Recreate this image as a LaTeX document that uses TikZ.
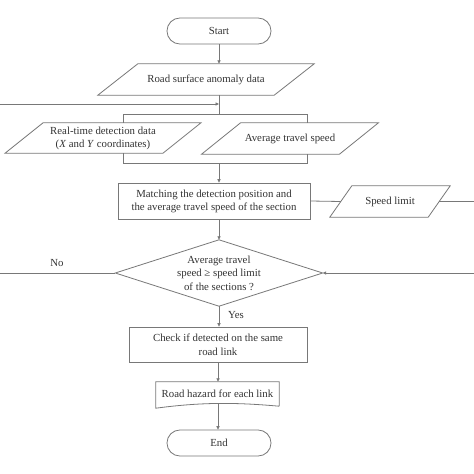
\documentclass[tikz,border=0pt]{standalone}
\usepackage{fontspec}
\setmainfont{Liberation Serif}
\usetikzlibrary{arrows.meta}
\definecolor{ln}{HTML}{787878}
\definecolor{tx}{HTML}{333333}
\newcommand\mypara[2]{\draw[shapeline] ([xshift=#2]#1.north west) -- ([xshift=#2]#1.north east) -- ([xshift=-#2]#1.south east) -- ([xshift=-#2]#1.south west) -- cycle;}
\begin{document}
\begin{tikzpicture}[x=1pt,y=-1pt,
 lbl/.style={inner sep=0pt, align=center, text=tx, font=\fontsize{10.8}{13}\selectfont},
 shapeline/.style={draw=ln, line width=0.8pt},
 flow/.style={draw=ln, line width=0.8pt},
 arr/.style={flow, -{Triangle[length=3.5pt,width=3.2pt]}},
 term/.style={lbl, shapeline, rounded corners=12.9pt, minimum width=104pt, minimum height=26pt},
 box/.style={lbl, shapeline},
]
\useasboundingbox (0,0) rectangle (474,474);
\fill[white] (0,0) rectangle (474,474);

\node[term] (start) at (219,31) {Start};
\node[lbl, minimum width=176pt, minimum height=31pt] (rsa) at (206,79.5) {Road surface anomaly data};
\mypara{rsa}{20pt}
\coordinate (m) at (219,104);
\coordinate (j1) at (219,114);
\coordinate (jl) at (123,114);
\coordinate (jr) at (307,114);
\node[lbl, minimum width=157.5pt, minimum height=30pt] (rt) at (103,138) {Real-time detection data\\(\textit{X} and \textit{Y} coordinates)};
\mypara{rt}{19pt}
\node[lbl, minimum width=137.5pt, minimum height=31pt] (avg) at (290,138.5) {Average travel speed};
\mypara{avg}{19.5pt}
\coordinate (k1) at (219,163);
\node[box, minimum width=192pt, minimum height=36pt] (match) at (214,201) {Matching the detection position and\\the average travel speed of the section};
\node[lbl, minimum width=98pt, minimum height=31pt] (sl) at (390,201.5) {Speed limit};
\mypara{sl}{11pt}
\node[lbl, minimum width=207pt, minimum height=66pt, font=\fontsize{10.8}{13.5}\selectfont] (dec) at (219,273) {Average travel\\speed ≥ speed limit\\of the sections ?};
\draw[shapeline] (dec.north) -- (dec.east) -- (dec.south) -- (dec.west) -- cycle;
\node[box, minimum width=178pt, minimum height=35pt, font=\fontsize{10.8}{14}\selectfont] (chk) at (218,344.5) {Check if detected on the same\\road link};
\node[lbl, minimum width=123pt, minimum height=24pt] (doc) at (217.5,394) {Road hazard for each link};
\draw[shapeline] (doc.south east) -- (doc.north east) -- (doc.north west) -- ([yshift=-2pt]doc.south west)
  .. controls ([xshift=45pt,yshift=4pt]doc.south west) and ([xshift=-45pt,yshift=4pt]doc.south east) .. (doc.south east);
\node[term] (end) at (219,443) {End};
\node[lbl] (no) at (57,263) {No};
\node[lbl] (yes) at (236,315) {Yes};

\draw[arr] (start.south) -- (start.south |- rsa.north);
\draw[flow] (rsa.south -| j1) -- (j1);
\draw[flow] (jl |- rt.north) -- (jl) -- (jr) -- (jr |- avg.north);
\draw[flow] (jl |- rt.south) -- (jl |- k1) -- (jr |- k1) -- (jr |- avg.south);
\draw[arr] (k1) -- (k1 |- match.north);
\draw[arr] (match.south -| dec.north) -- (dec.north);
\draw[flow] (match.east) -- (sl.west);
\draw[arr] (sl.east) -- ++(45,0) |- (dec.east);
\draw[arr] (dec.west) -- ++(-130,0) |- (m);
\draw[arr] (dec.south) -- (chk.north -| dec.south);
\draw[arr] (chk.south) -- (doc.north -| chk.south);
\draw[arr] ([yshift=3pt]doc.south -| chk.south) -- (end.north -| chk.south);
\end{tikzpicture}
\end{document}
